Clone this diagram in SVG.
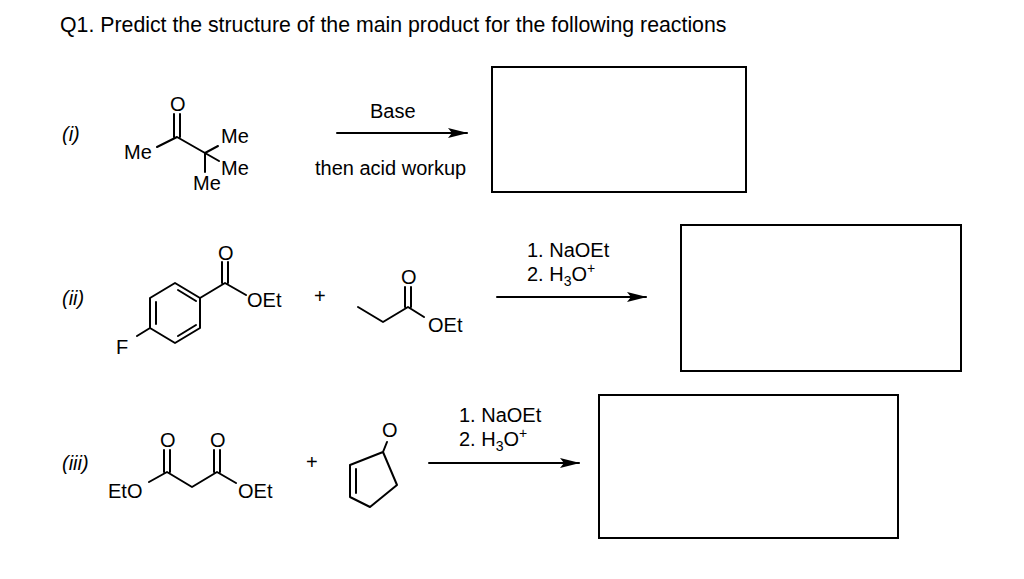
<svg xmlns="http://www.w3.org/2000/svg" width="1024" height="579" viewBox="0 0 1024 579">
<style>
text{font-family:"Liberation Sans",Arial,sans-serif;font-size:20px;fill:#000}
.t{font-size:21.3px}
.i{font-style:italic}
.b{stroke:#000;stroke-width:2;fill:none;stroke-linecap:round;stroke-linejoin:round}
.box{stroke:#000;stroke-width:2;fill:#fff}
</style>
<defs><marker id="ah" markerWidth="20" markerHeight="10" refX="19" refY="5" orient="auto" markerUnits="userSpaceOnUse"><path d="M0,0 L20,5 L0,10 L4,5 Z" fill="#000"/></marker></defs>
<rect width="1024" height="579" fill="#fff"/>
<text class="t" x="60" y="32">Q1. Predict the structure of the main product for the following reactions</text>
<g id="labels">
<text class="i" x="62" y="141">(i)</text>
<text class="i" x="62" y="305">(ii)</text>
<text class="i" x="62" y="470">(iii)</text>
</g>
<g id="mol1">
<path class="b" d="M157,147 L177,137 L205,153 L218,146 M205,153 L219,161 M205,153 L205,172 M174,114 L174,137 M180,114 L180,137"/>
<text x="124" y="159">Me</text><text x="170" y="111">O</text>
<text x="221" y="143">Me</text><text x="221" y="175">Me</text><text x="193" y="190">Me</text>
</g>
<g id="mol2">
<path class="b" d="M175,283 L200,298 L200,328 L175,343 L150,328 L150,298 Z M156,302 L156,324 M178,290 L196,301 M178,336 L196,325 M150,328 L137,336 M200,298 L225,283 L246,295 M222,262 L222,283 M228,262 L228,283"/>
<text x="116" y="354">F</text><text x="218" y="260">O</text><text x="247" y="307">OEt</text>
</g>
<text id="plus1" x="314" y="303" font-size="16">+</text>
<g id="mol3">
<path class="b" d="M358,307 L383,322 L408,307 L424,317 M405,287 L405,307 M411,287 L411,307"/>
<text x="401" y="284">O</text><text x="428" y="332">OEt</text>
</g>
<g id="mol4">
<path class="b" d="M149,482 L167,472 L192,487 L217,472 L236,483 M164,450 L164,472 M170,450 L170,472 M214,450 L214,472 M220,450 L220,472"/>
<text x="108" y="498">EtO</text><text x="160" y="447">O</text><text x="210" y="447">O</text><text x="238" y="498">OEt</text>
</g>
<text id="plus2" x="306" y="469" font-size="16">+</text>
<g id="mol5">
<path class="b" d="M383,452 L350,465 L350,497 L370,507 L397,485 Z M356,469 L356,493 M383,452 L387,442"/>
<text x="382" y="437">O</text>
</g>
<g id="connectors">
<line class="b" x1="337" y1="133" x2="467" y2="133" marker-end="url(#ah)"/>
<line class="b" x1="497" y1="297" x2="646" y2="297" marker-end="url(#ah)"/>
<line class="b" x1="429" y1="463" x2="579" y2="463" marker-end="url(#ah)"/>
</g>
<g id="reagents">
<text x="370" y="118">Base</text>
<text x="315" y="175">then acid workup</text>
<text x="527" y="257">1. NaOEt</text>
<text x="527" y="281">2. H<tspan font-size="14" dy="5">3</tspan><tspan dy="-5">O</tspan><tspan font-size="14" dy="-8">+</tspan></text>
<text x="459" y="422">1. NaOEt</text>
<text x="459" y="446">2. H<tspan font-size="14" dy="5">3</tspan><tspan dy="-5">O</tspan><tspan font-size="14" dy="-8">+</tspan></text>
</g>
<g id="boxes">
<rect class="box" x="492" y="67" width="254" height="125"/>
<rect class="box" x="681" y="225" width="280" height="146"/>
<rect class="box" x="599" y="395" width="299" height="143"/>
</g>
</svg>
